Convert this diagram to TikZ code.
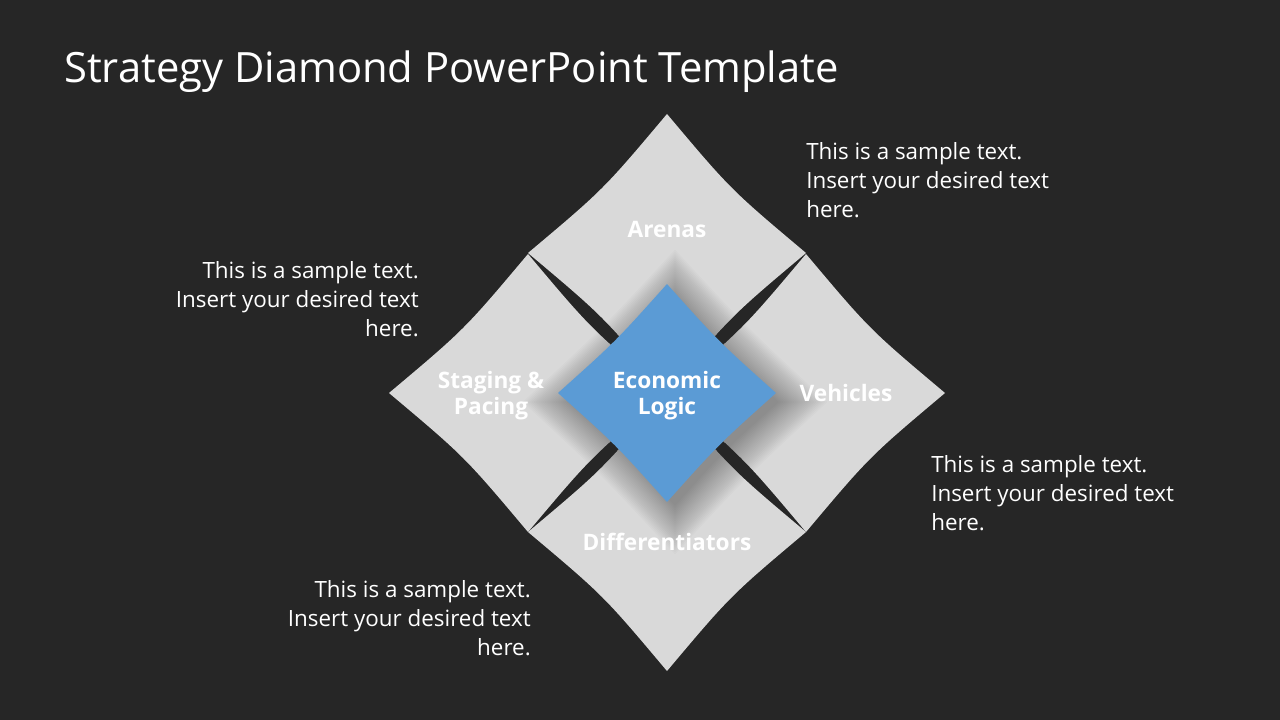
\documentclass[tikz,border=0pt]{standalone}
\usepackage{fontspec}
\setmainfont{Open Sans}
\definecolor{bgdark}{HTML}{262626}
\definecolor{tilegrey}{HTML}{D9D9D9}
\definecolor{ecoblue}{HTML}{5B9BD5}
% concave diamond: centre x, centre y, half diagonal, inward bow (px)
\newcommand{\cdpath}[4]{({#1},{#2-(#3)}) .. controls ({#1+(#3)/2-(#4)},{#2-(#3)/2+(#4)}) .. ({#1+(#3)},{#2}) .. controls ({#1+(#3)/2-(#4)},{#2+(#3)/2-(#4)}) .. ({#1},{#2+(#3)}) .. controls ({#1-(#3)/2+(#4)},{#2+(#3)/2-(#4)}) .. ({#1-(#3)},{#2}) .. controls ({#1-(#3)/2+(#4)},{#2-(#3)/2+(#4)}) .. cycle}
\tikzset{
  tile/.style={fill=tilegrey, draw=none},
  core/.style={fill=ecoblue, draw=none},
  lbl/.style={text=white, inner sep=0pt, font=\fontsize{17}{20}\selectfont\bfseries},
  body/.style={text=white, inner sep=0pt, font=\fontsize{16.8}{21.75}\selectfont},
}
\begin{document}
\begin{tikzpicture}[x=0.75pt, y=-0.75pt]
\fill[bgdark] (0,0) rectangle (1280,720);
\useasboundingbox (0,0) rectangle (1280,720);
% title
\node[anchor=base west, inner sep=0pt, text=white, font=\fontsize{31.3}{38}\selectfont] (title) at (64,83) {Strategy Diamond PowerPoint Template};
% tiles
\fill[tile] \cdpath{667}{253}{139}{6};
\fill[tile] \cdpath{528}{393}{139}{6};
\fill[tile] \cdpath{806}{393}{139}{6};
\fill[tile] \cdpath{667}{532}{139}{6};
% shadow of the centre
\begin{scope}
\clip \cdpath{667}{253}{139}{6} \cdpath{528}{393}{139}{6} \cdpath{806}{393}{139}{6} \cdpath{667}{532}{139}{6};
\foreach \s in {0,...,22}{
  \fill[black, fill opacity=0.017] \cdpath{675}{402}{104+2.2*\s}{3};
}
\end{scope}
\fill[core] \cdpath{667}{393}{109}{3};
% labels
\node[lbl, anchor=base] (arenas) at (667,237.5) {Arenas};
\node[lbl, anchor=base] (vehicles) at (846,401.5) {Vehicles};
\node[lbl, anchor=base] (diff) at (667,550) {Differentiators};
\node[lbl, anchor=base] (staging) at (491,388.3) {\begin{tabular}[t]{@{}c@{}}Staging \&\\Pacing\end{tabular}};
\node[lbl, anchor=base] (econ) at (667,388.3) {\begin{tabular}[t]{@{}c@{}}Economic\\Logic\end{tabular}};
% body texts
\node[body, anchor=base west] (t1) at (806,159.3) {\begin{tabular}[t]{@{}l@{}}This is a sample text.\\Insert your desired text\\here.\end{tabular}};
\node[body, anchor=base east] (t2) at (419,278) {\begin{tabular}[t]{@{}r@{}}This is a sample text.\\Insert your desired text\\here.\end{tabular}};
\node[body, anchor=base west] (t3) at (931,472) {\begin{tabular}[t]{@{}l@{}}This is a sample text.\\Insert your desired text\\here.\end{tabular}};
\node[body, anchor=base east] (t4) at (531,597.3) {\begin{tabular}[t]{@{}r@{}}This is a sample text.\\Insert your desired text\\here.\end{tabular}};
\end{tikzpicture}
\end{document}
